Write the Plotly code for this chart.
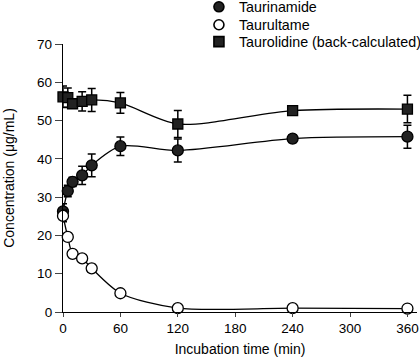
import plotly.graph_objects as go

time = [0, 5, 10, 20, 30, 60, 120, 240, 360]

taurinamide = [26.3, 31.6, 34.0, 35.7, 38.3, 43.3, 42.2, 45.3, 45.8]
taurinamide_err = [2.0, 1.5, 1.2, 2.4, 3.0, 2.4, 3.0, 1.0, 3.0]

taurultame = [25.1, 19.6, 15.2, 14.0, 11.4, 4.9, 1.0, 1.0, 0.9]
taurultame_err = [1.5, 1.0, 0.8, 0.8, 1.0, 0.5, 0.3, 0.3, 0.3]

taurolidine = [56.2, 56.0, 54.4, 55.0, 55.4, 54.6, 49.1, 52.6, 53.0]
taurolidine_err = [2.8, 2.5, 1.2, 2.5, 3.0, 2.7, 3.5, 0.8, 3.6]

xticks = [0, 60, 120, 180, 240, 300, 360]
yticks = [0, 10, 20, 30, 40, 50, 60, 70]

FONT = "Liberation Sans, Arial, sans-serif"

series = [
    ("Taurinamide", taurinamide, taurinamide_err, "circle", "#222222"),
    ("Taurultame", taurultame, taurultame_err, "circle", "white"),
    ("Taurolidine (back-calculated)", taurolidine, taurolidine_err, "square", "#222222"),
]
legend_ids = ["legend", "legend2", "legend3"]
legend_ys = [1.138, 1.071, 1.008]

fig = go.Figure()
for name, y, err, symbol, fill in series:
    size = 11 if symbol == "circle" else 10
    fig.add_trace(go.Scatter(
        x=time, y=y, name=name, mode="lines+markers", showlegend=False,
        line=dict(color="black", width=1.3, shape="spline", smoothing=0.8),
        marker=dict(symbol=symbol, size=size, color=fill,
                    line=dict(color="black", width=1.3)),
        error_y=dict(type="data", array=err, visible=True, color="black",
                     thickness=1.5, width=4),
        cliponaxis=False,
    ))
for (name, y, err, symbol, fill), lid in zip(series, legend_ids):
    fig.add_trace(go.Scatter(
        x=[None], y=[None], name=name, mode="markers", showlegend=True,
        legend=lid,
        marker=dict(symbol=symbol, size=10, color=fill,
                    line=dict(color="black", width=1.6)),
    ))

leg_common = dict(x=0.384, xanchor="left", yanchor="middle",
                  bgcolor="rgba(0,0,0,0)", font=dict(size=14.3))

fig.update_layout(
    width=420, height=358,
    margin=dict(l=63, r=3, t=44, b=46, autoexpand=False),
    paper_bgcolor="white", plot_bgcolor="white",
    font=dict(family=FONT, size=13.5, color="black"),
    showlegend=True,
    legend=dict(y=legend_ys[0], **leg_common),
    legend2=dict(y=legend_ys[1], **leg_common),
    legend3=dict(y=legend_ys[2], **leg_common),
    xaxis=dict(range=[0, 370], tickvals=xticks, ticks="outside", ticklen=4,
               tickwidth=1.3, showline=True, linecolor="black", linewidth=1.3,
               showgrid=False, zeroline=False, tickfont=dict(size=13.5),
               title=dict(text="Incubation time (min)", font=dict(size=14), standoff=8)),
    yaxis=dict(range=[0, 70], tickvals=yticks, ticks="outside", ticklen=7,
               tickwidth=1.3, showline=True, linecolor="black", linewidth=1.3,
               showgrid=False, zeroline=False, tickfont=dict(size=13.5),
               title=dict(text="Concentration (μg/mL)", font=dict(size=14), standoff=19)),
)

fig.write_html("out.html", config={"displayModeBar": False},
               post_script="document.body.style.margin='0';document.body.style.overflow='hidden';")
